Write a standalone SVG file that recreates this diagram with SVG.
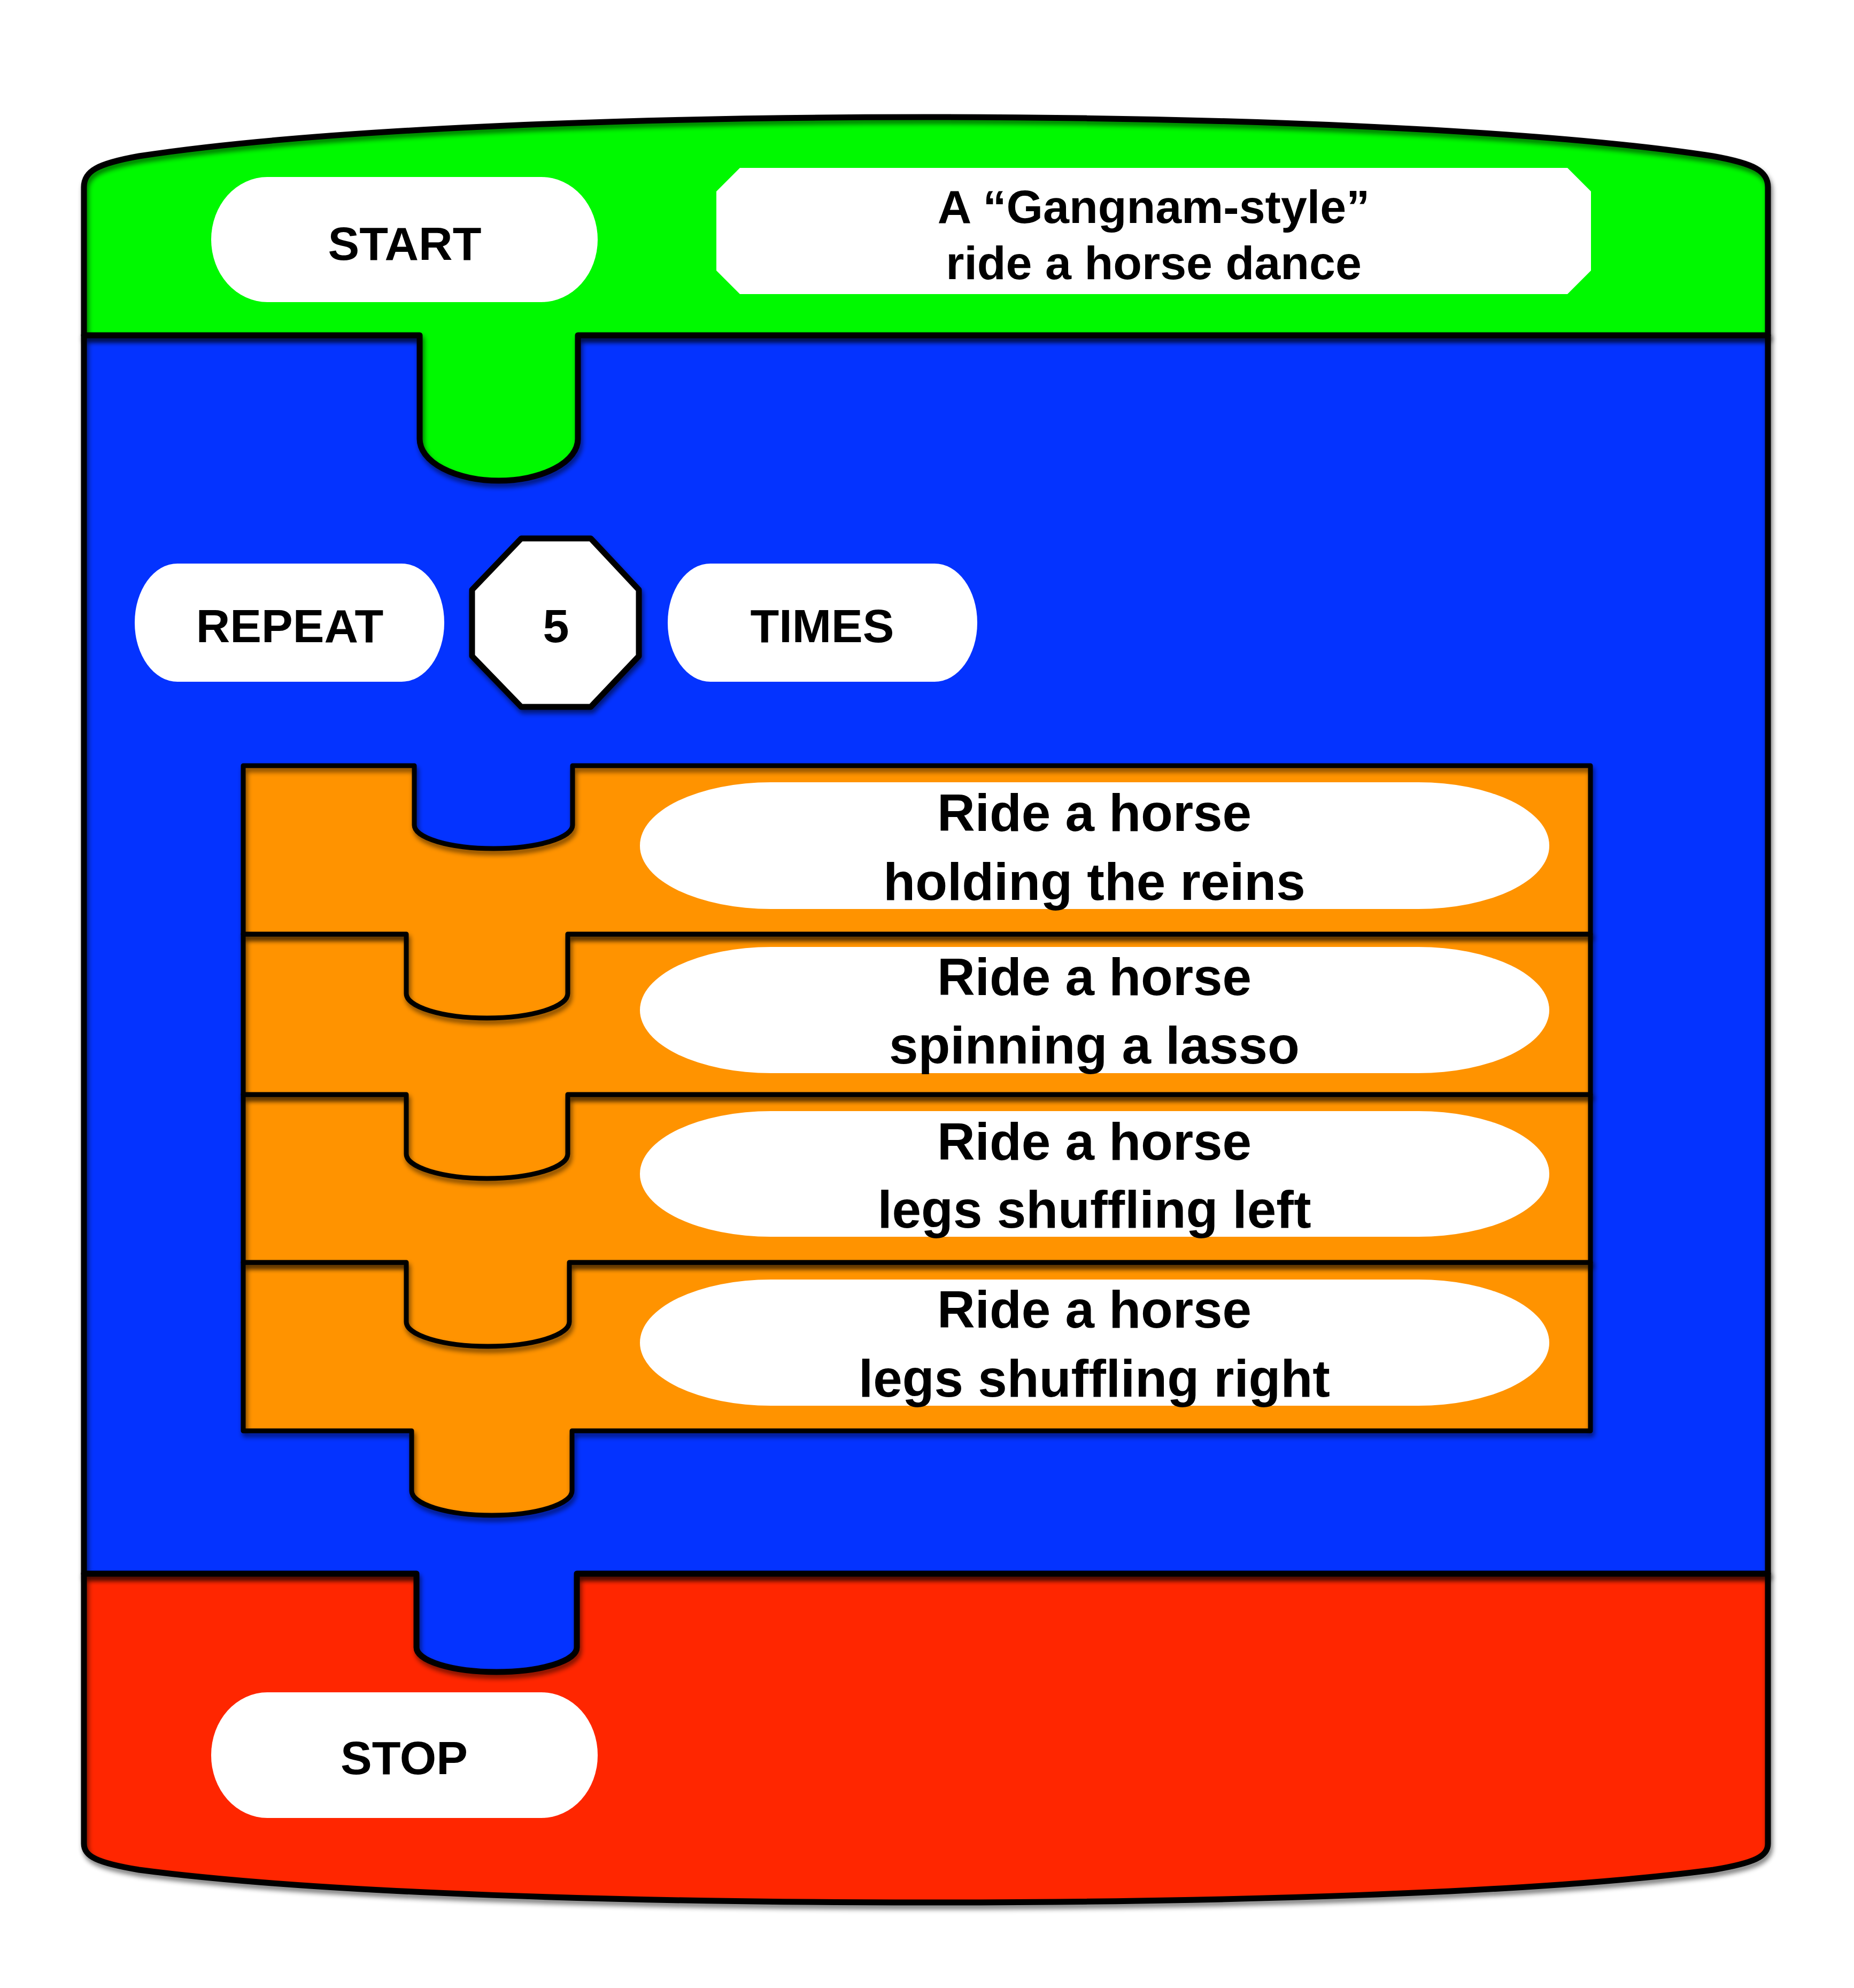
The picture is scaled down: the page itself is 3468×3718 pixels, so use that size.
<svg xmlns="http://www.w3.org/2000/svg" width="3468" height="3718" viewBox="0 0 3468 3718">
<defs>
<filter id="sh" filterUnits="userSpaceOnUse" x="0" y="0" width="3468" height="3718">
<feGaussianBlur in="SourceAlpha" stdDeviation="5"/>
<feOffset dx="3" dy="7" result="o"/>
<feComponentTransfer><feFuncA type="linear" slope="0.55"/></feComponentTransfer>
<feMerge><feMergeNode/><feMergeNode in="SourceGraphic"/></feMerge>
</filter>
</defs>
<style>
.ln{fill:none;stroke:#000;stroke-width:11;stroke-linejoin:round;filter:url(#sh)}
.oln{fill:none;stroke:#000;stroke-width:9;stroke-linejoin:round;filter:url(#sh)}
.pill{fill:#fff}
.t{font-family:"Liberation Sans",Arial,Helvetica,sans-serif;font-weight:bold;fill:#000;text-anchor:middle}
.h{font-size:88px}
.r{font-size:98px}
.green{fill:#00F900}
.blue{fill:#0433FF}
.red{fill:#FF2600}
.orange{fill:#FF9300}
</style>
<rect width="3468" height="3718" fill="#fff"/>

<g id="stop-section">
<path class="red" d="M157,2943 L3307,2943 L3307,3448 C3307,3472 3282,3484 3205,3497 C2864,3542 2264,3558 1732,3558 C1200,3558 600,3542 260,3497 C182,3484 157,3472 157,3448 Z"/>
<path class="ln" d="M157,2943 L3307,2943 L3307,3448 C3307,3472 3282,3484 3205,3497 C2864,3542 2264,3558 1732,3558 C1200,3558 600,3542 260,3497 C182,3484 157,3472 157,3448 Z"/>
</g>

<g id="repeat-section">
<path class="blue" d="M157,627 L3307,627 L3307,2943 L1079,2943 L1079,3081 A150,46 0 0 1 779,3081 L779,2943 L157,2943 Z"/>
<path class="ln" d="M157,627 L3307,627 L3307,2943 L1079,2943 L1079,3081 A150,46 0 0 1 779,3081 L779,2943 L157,2943 Z"/>
</g>

<g id="start-section">
<path class="green" d="M157,350 C157,320 182,306 260,292 C600,240 1200,219 1732,219 C2264,219 2864,240 3204,292 C3282,306 3307,320 3307,350 L3307,627 L1081,627 L1081,821 A148,78 0 0 1 785,821 L785,627 L157,627 Z"/>
<path class="ln" d="M157,350 C157,320 182,306 260,292 C600,240 1200,219 1732,219 C2264,219 2864,240 3204,292 C3282,306 3307,320 3307,350 L3307,627 L1081,627 L1081,821 A148,78 0 0 1 785,821 L785,627 L157,627 Z"/>
</g>

<g id="block-4">
<path class="orange" d="M455,2361 L2975,2361 L2975,2676 L1070,2676 L1070,2788 A150,46 0 0 1 770,2788 L770,2676 L455,2676 Z"/>
<path class="oln" d="M455,2361 L2975,2361 L2975,2676 L1070,2676 L1070,2788 A150,46 0 0 1 770,2788 L770,2676 L455,2676 Z"/>
<rect class="pill" x="1197" y="2393" width="1701" height="236" rx="245" ry="118"/>
<text class="t r" x="2047" y="2483">Ride a horse</text>
<text class="t r" x="2047" y="2612">legs shuffling right</text>
</g>

<g id="block-3">
<path class="orange" d="M455,2047 L2975,2047 L2975,2361 L1065,2361 L1065,2472 A152.5,46 0 0 1 760,2472 L760,2361 L455,2361 Z"/>
<path class="oln" d="M455,2047 L2975,2047 L2975,2361 L1065,2361 L1065,2472 A152.5,46 0 0 1 760,2472 L760,2361 L455,2361 Z"/>
<rect class="pill" x="1197" y="2078" width="1701" height="235" rx="245" ry="117"/>
<text class="t r" x="2047" y="2169">Ride a horse</text>
<text class="t r" x="2047" y="2296">legs shuffling left</text>
</g>

<g id="block-2">
<path class="orange" d="M455,1747 L2975,1747 L2975,2047 L1062,2047 L1062,2158 A151,46 0 0 1 760,2158 L760,2047 L455,2047 Z"/>
<path class="oln" d="M455,1747 L2975,1747 L2975,2047 L1062,2047 L1062,2158 A151,46 0 0 1 760,2158 L760,2047 L455,2047 Z"/>
<rect class="pill" x="1197" y="1771" width="1701" height="236" rx="245" ry="118"/>
<text class="t r" x="2047" y="1861">Ride a horse</text>
<text class="t r" x="2047" y="1989">spinning a lasso</text>
</g>

<g id="block-1">
<path class="orange" d="M455,1432 L775,1432 L775,1543 A148,44 0 0 0 1071,1543 L1071,1432 L2975,1432 L2975,1747 L1062,1747 L1062,1858 A151,46 0 0 1 760,1858 L760,1747 L455,1747 Z"/>
<path class="oln" d="M455,1432 L775,1432 L775,1543 A148,44 0 0 0 1071,1543 L1071,1432 L2975,1432 L2975,1747 L1062,1747 L1062,1858 A151,46 0 0 1 760,1858 L760,1747 L455,1747 Z"/>
<rect class="pill" x="1197" y="1463" width="1701" height="237" rx="245" ry="118"/>
<text class="t r" x="2047" y="1554">Ride a horse</text>
<text class="t r" x="2047" y="1683">holding the reins</text>
</g>

<g id="start">
<rect class="pill" x="395" y="331" width="723" height="234" rx="105" ry="117"/>
<text class="t h" x="757" y="486">START</text>
</g>

<g id="title">
<polygon class="pill" points="1384,314 2932,314 2976,358 2976,506 2932,550 1384,550 1340,506 1340,358"/>
<text class="t h" x="2158" y="417">A “Gangnam-style”</text>
<text class="t h" x="2158" y="522">ride a horse dance</text>
</g>

<g id="repeat">
<rect class="pill" x="252" y="1054" width="579" height="221" rx="80" ry="110"/>
<text class="t h" x="542" y="1201">REPEAT</text>
</g>

<g id="count">
<polygon points="975,1007 1105,1007 1195,1103 1195,1227 1105,1322 975,1322 883,1227 883,1103" fill="#fff" stroke="#000" stroke-width="11" stroke-linejoin="round" filter="url(#sh)"/>
<text class="t h" x="1040" y="1201">5</text>
</g>

<g id="times">
<rect class="pill" x="1249" y="1054" width="579" height="221" rx="80" ry="110"/>
<text class="t h" x="1538" y="1201">TIMES</text>
</g>

<g id="stop">
<rect class="pill" x="395" y="3165" width="723" height="235" rx="105" ry="117"/>
<text class="t h" x="756" y="3318">STOP</text>
</g>

<g id="connectors"/>
</svg>
